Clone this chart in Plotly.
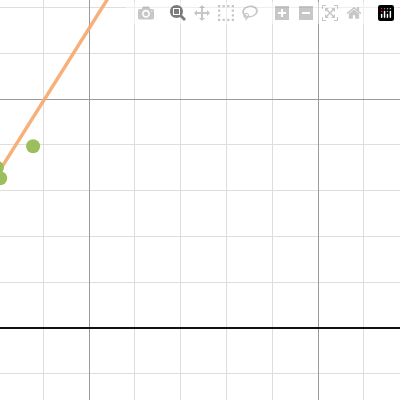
import plotly.graph_objects as go

# scatter points
point_x = [2.99, 3.06, 3.78]
point_y = [3.50, 3.27, 3.97]

# fitted line endpoints
line_x = [2.5, 6.0]
line_slope = 1.59
line_icept = 3.45 - 1.59 * 3.057
line_y = [line_slope * x + line_icept for x in line_x]

fig = go.Figure()
fig.add_trace(go.Scatter(
    x = line_x, y = line_y, mode = "lines",
    line = dict(color = "#f7a86b", width = 3.5), opacity = 0.9,
))
fig.add_trace(go.Scatter(
    x = point_x, y = point_y, mode = "markers",
    marker = dict(color = "#9bbf5c", size = 14, line = dict(width = 0)),
))

axis_common = dict(
    showgrid = True, gridcolor = "#9a9a9a", gridwidth = 1, dtick = 5, tick0 = 0,
    minor = dict(dtick = 1, showgrid = True, gridcolor = "#dddddd", gridwidth = 1),
    zeroline = True, zerolinecolor = "#111111", zerolinewidth = 1.5,
    showticklabels = False, ticks = "", showline = False,
)
fig.update_xaxes(range = [3.057, 11.79], **axis_common)
fig.update_yaxes(range = [-1.572, 7.162], **axis_common)
fig.update_layout(
    width = 400, height = 400, showlegend = False,
    margin = dict(l = 0, r = 0, t = 0, b = 0),
    plot_bgcolor = "white", paper_bgcolor = "white",
)
# tira a margem padrão do body para o gráfico ocupar a janela toda
fig.write_html("out.html", post_script = "document.body.style.margin='0';")
